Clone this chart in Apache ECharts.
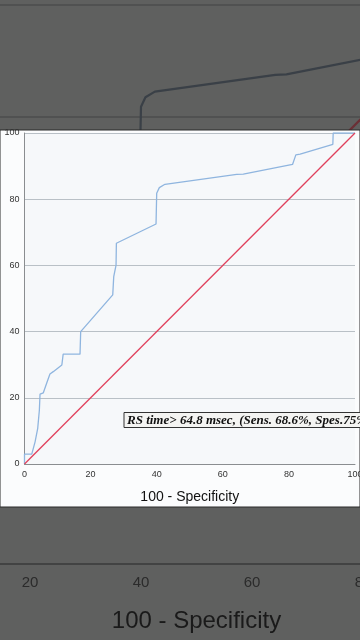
<!DOCTYPE html>
<html>
<head>
<meta charset="utf-8">
<script src="https://cdn.jsdelivr.net/npm/echarts@6/dist/echarts.min.js"></script>
<style>
html,body{margin:0;padding:0;background:#5f605f;}
#c{width:360px;height:640px;}
</style>
</head>
<body>
<div id="c"></div>
<script>
var rocX = [0, 0, 2.2, 3.2, 4.0, 4.5, 4.7, 5.7, 6.7, 7.7, 8.7, 11.3, 11.7, 16.8, 17.0, 26.7, 27.0, 27.7, 27.8, 39.8, 40.0, 40.8, 42.5, 64.2, 66.2, 81.1, 82.1, 83.4, 93.3, 93.4, 100];
var rocY = [0, 3.0, 3.0, 6.7, 10.8, 16.3, 21.1, 21.5, 24.4, 27.2, 27.9, 29.9, 33.2, 33.2, 40.0, 51.1, 56.6, 60.1, 66.7, 72.5, 81.8, 83.5, 84.5, 87.5, 87.6, 90.5, 93.4, 93.6, 96.6, 100, 100];
var refX = [0, 100];
var refY = [0, 100];
var xTicks = [0, 20, 40, 60, 80, 100];
var yTicks = [0, 20, 40, 60, 80, 100];
var xTitle = '100 - Specificity';
var note = 'RS time> 64.8 msec, (Sens. 68.6%, Spes.75%)';

function pairs(xs, ys) { return xs.map(function (v, i) { return [v, ys[i]]; }); }

var chart = echarts.init(document.getElementById('c'), null, {renderer: 'canvas'});
chart.setOption({
  backgroundColor: '#5f605f',
  animation: false,
  grid: [
    {left: -81, top: 5, width: 555, height: 559, zlevel: 0, outerBoundsMode: 'none', containLabel: false},
    {left: 24.5, top: 133, width: 330.5, height: 331, zlevel: 2, show: true, backgroundColor: '#f6f8fa', borderWidth: 0, outerBoundsMode: 'none', containLabel: false}
  ],
  xAxis: [
    {gridIndex: 0, type: 'value', min: 0, max: 100, interval: 20, zlevel: 0,
     axisLine: {lineStyle: {color: '#3e3f3f', width: 1.5}}, axisTick: {show: false}, splitLine: {show: false},
     axisLabel: {color: '#2b2b2b', fontSize: 15, margin: 11, fontFamily: 'Arial, Liberation Sans'},
     name: xTitle, nameLocation: 'middle', nameGap: 45,
     nameTextStyle: {color: '#1a1a1a', fontSize: 24, fontFamily: 'Arial, Liberation Sans'}},
    {gridIndex: 1, type: 'value', min: 0, max: 100, interval: 20, zlevel: 2,
     axisLine: {lineStyle: {color: '#8a8d90', width: 1}}, axisTick: {show: false}, splitLine: {show: false},
     axisLabel: {color: '#333', fontSize: 9, margin: 6, fontFamily: 'Arial, Liberation Sans'},
     name: xTitle, nameLocation: 'middle', nameGap: 26,
     nameTextStyle: {color: '#111', fontSize: 14, fontFamily: 'Arial, Liberation Sans'}}
  ],
  yAxis: [
    {gridIndex: 0, type: 'value', min: 0, max: 100, interval: 20, zlevel: 0,
     axisLine: {show: false}, axisTick: {show: false}, axisLabel: {show: false},
     splitLine: {lineStyle: {color: '#4b4c4c', width: 1.5}}},
    {gridIndex: 1, type: 'value', min: 0, max: 100, interval: 20, zlevel: 2,
     axisLine: {show: true, lineStyle: {color: '#8a8d90', width: 1}}, axisTick: {show: false},
     axisLabel: {color: '#333', fontSize: 9, margin: 5, fontFamily: 'Arial, Liberation Sans'},
     splitLine: {lineStyle: {color: '#b9c0c6', width: 1}}}
  ],
  graphic: {elements: [
    {type: 'rect', zlevel: 1, z: 0, shape: {x: 0, y: 130, width: 360, height: 377},
     style: {fill: '#fbfcfd', stroke: '#2a2a2a', lineWidth: 1}},
    {type: 'rect', zlevel: 3, z: 10, shape: {x: 124, y: 412.5, width: 300, height: 15},
     style: {fill: '#f4f4f2', stroke: '#333', lineWidth: 1}},
    {type: 'text', zlevel: 3, z: 11, x: 127, y: 420.5,
     style: {text: note, fill: '#111', fontStyle: 'italic', fontWeight: 'bold', fontSize: 13, fontFamily: 'Liberation Serif', verticalAlign: 'middle', align: 'left'}}
  ]},
  series: [
    {type: 'line', xAxisIndex: 0, yAxisIndex: 0, zlevel: 0, data: pairs(rocX, rocY), showSymbol: false,
     lineStyle: {color: '#3a4047', width: 2.2}},
    {type: 'line', xAxisIndex: 0, yAxisIndex: 0, zlevel: 0, data: pairs(refX, refY), showSymbol: false,
     lineStyle: {color: '#6b3036', width: 2.2}},
    {type: 'line', xAxisIndex: 1, yAxisIndex: 1, zlevel: 2, data: pairs(rocX, rocY), showSymbol: false,
     lineStyle: {color: '#8fb5df', width: 1.3}},
    {type: 'line', xAxisIndex: 1, yAxisIndex: 1, zlevel: 2, data: pairs(refX, refY), showSymbol: false,
     lineStyle: {color: '#e0405c', width: 1.3}}
  ]
});
</script>
</body>
</html>
